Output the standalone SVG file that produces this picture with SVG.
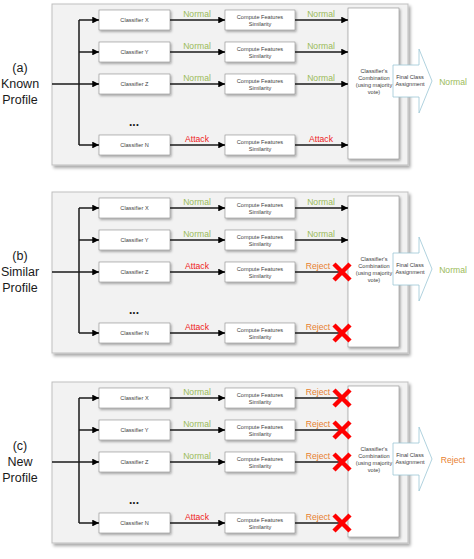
<svg xmlns="http://www.w3.org/2000/svg" width="474" height="559" viewBox="0 0 474 559">
<defs>
<style>
.panel{fill:#f2f2f2;stroke:#bfbfbf;stroke-width:1}
.box{fill:#fff;stroke:#8c8c8c;stroke-width:0.6}
.t{font-family:"Liberation Sans",Arial,sans-serif;fill:#404040;text-anchor:middle;font-size:5.6px}
.lab{font-family:"Liberation Sans",Arial,sans-serif;font-size:8.6px;text-anchor:middle}
.n{fill:#9bbb59}.a{fill:#ee1c24}.r{fill:#e8802f}
.ln{stroke:#1a1a1a;stroke-width:1.5;fill:none}
.arr{marker-end:url(#ah)}
.x{stroke:#ff0000;stroke-width:4.5;fill:none}
.side{font-family:"Liberation Sans",Arial,sans-serif;font-size:12.5px;text-anchor:middle;fill:#1a1a1a}
.big{fill:#fff;stroke:#9cc7d6;stroke-width:0.8}
.dots{font-family:"Liberation Sans",Arial,sans-serif;font-size:12px;font-weight:bold;fill:#1a1a1a;text-anchor:middle}
</style>
<marker id="ah" viewBox="0 0 10 10" refX="10" refY="5" markerWidth="4.5" markerHeight="4.5" orient="auto" markerUnits="strokeWidth"><path d="M0,0 L10,5 L0,10 z" fill="#000"/></marker>
<filter id="sh" x="-10%" y="-10%" width="130%" height="130%"><feDropShadow dx="2" dy="2.5" stdDeviation="1.5" flood-color="#000" flood-opacity="0.35"/></filter>
<filter id="bs" x="-10%" y="-20%" width="130%" height="150%"><feDropShadow dx="1.2" dy="1.5" stdDeviation="0.8" flood-color="#000" flood-opacity="0.35"/></filter>
</defs>

<!-- Panel (a) -->
<g id="panel-a">
<rect class="panel" x="52" y="4" width="356" height="161" filter="url(#sh)"/>
<g id="a-label"><text class="side" x="20" y="72">(a)</text><text class="side" x="20" y="88">Known</text><text class="side" x="20" y="104">Profile</text></g>
<g id="a-clsX"><rect class="box" x="99" y="10" width="71" height="20" filter="url(#bs)"/><text class="t" x="134.5" y="22">Classifier X</text></g>
<g id="a-clsY"><rect class="box" x="99" y="42" width="71" height="20" filter="url(#bs)"/><text class="t" x="134.5" y="54">Classifier Y</text></g>
<g id="a-clsZ"><rect class="box" x="99" y="74" width="71" height="20" filter="url(#bs)"/><text class="t" x="134.5" y="86">Classifier Z</text></g>
<g id="a-clsN"><rect class="box" x="99" y="135" width="71" height="20" filter="url(#bs)"/><text class="t" x="134.5" y="147">Classifier N</text></g>
<text class="dots" x="134" y="126">...</text>
<g id="a-cfX"><rect class="box" x="225" y="10" width="70" height="20" filter="url(#bs)"/><text class="t" x="260" y="18.5">Compute Features</text><text class="t" x="260" y="25.5">Similarity</text></g>
<g id="a-cfY"><rect class="box" x="225" y="42" width="70" height="20" filter="url(#bs)"/><text class="t" x="260" y="50.5">Compute Features</text><text class="t" x="260" y="57.5">Similarity</text></g>
<g id="a-cfZ"><rect class="box" x="225" y="74" width="70" height="20" filter="url(#bs)"/><text class="t" x="260" y="82.5">Compute Features</text><text class="t" x="260" y="89.5">Similarity</text></g>
<g id="a-cfN"><rect class="box" x="225" y="135" width="70" height="20" filter="url(#bs)"/><text class="t" x="260" y="143.5">Compute Features</text><text class="t" x="260" y="150.5">Similarity</text></g>
<g id="a-comb"><rect class="box" x="348" y="8" width="51" height="151" filter="url(#bs)"/><text class="t" x="374" y="73">Classifier's</text><text class="t" x="374" y="80">Combination</text><text class="t" x="374" y="87">(using majority</text><text class="t" x="374" y="94">vote)</text></g>
<g id="a-final"><path class="big" d="M393,65 L419,65 L419,49 L432,81 L419,113 L419,97 L393,97 Z"/><text class="t" x="410" y="79">Final Class</text><text class="t" x="410" y="86">Assignment</text></g>
<g id="a-conn">
<path class="ln" d="M52,84 L79,84 M79,20 L79,145"/>
<path class="ln arr" d="M79,20 L99,20"/><path class="ln arr" d="M79,52 L99,52"/><path class="ln arr" d="M79,84 L99,84"/><path class="ln arr" d="M79,145 L99,145"/>
<path class="ln arr" d="M170,20 L225,20"/><path class="ln arr" d="M170,52 L225,52"/><path class="ln arr" d="M170,84 L225,84"/><path class="ln arr" d="M170,145 L225,145"/>
<path class="ln arr" d="M295,20 L348,20"/><path class="ln arr" d="M295,52 L348,52"/><path class="ln arr" d="M295,84 L348,84"/><path class="ln arr" d="M295,145 L348,145"/>
<text class="lab n" x="197" y="17">Normal</text><text class="lab n" x="197" y="49">Normal</text><text class="lab n" x="197" y="81">Normal</text><text class="lab a" x="197" y="142">Attack</text>
<text class="lab n" x="321" y="17">Normal</text><text class="lab n" x="321" y="49">Normal</text><text class="lab n" x="321" y="81">Normal</text><text class="lab a" x="321" y="142">Attack</text>
<text class="lab n" x="453" y="84.5">Normal</text>
</g>
</g>

<!-- Panel (b) -->
<g id="panel-b" transform="translate(0,188)">
<rect class="panel" x="52" y="4" width="356" height="161" filter="url(#sh)"/>
<g id="b-label"><text class="side" x="20" y="72">(b)</text><text class="side" x="20" y="88">Similar</text><text class="side" x="20" y="104">Profile</text></g>
<g id="b-clsX"><rect class="box" x="99" y="10" width="71" height="20" filter="url(#bs)"/><text class="t" x="134.5" y="22">Classifier X</text></g>
<g id="b-clsY"><rect class="box" x="99" y="42" width="71" height="20" filter="url(#bs)"/><text class="t" x="134.5" y="54">Classifier Y</text></g>
<g id="b-clsZ"><rect class="box" x="99" y="74" width="71" height="20" filter="url(#bs)"/><text class="t" x="134.5" y="86">Classifier Z</text></g>
<g id="b-clsN"><rect class="box" x="99" y="135" width="71" height="20" filter="url(#bs)"/><text class="t" x="134.5" y="147">Classifier N</text></g>
<text class="dots" x="134" y="126">...</text>
<g id="b-cfX"><rect class="box" x="225" y="10" width="70" height="20" filter="url(#bs)"/><text class="t" x="260" y="18.5">Compute Features</text><text class="t" x="260" y="25.5">Similarity</text></g>
<g id="b-cfY"><rect class="box" x="225" y="42" width="70" height="20" filter="url(#bs)"/><text class="t" x="260" y="50.5">Compute Features</text><text class="t" x="260" y="57.5">Similarity</text></g>
<g id="b-cfZ"><rect class="box" x="225" y="74" width="70" height="20" filter="url(#bs)"/><text class="t" x="260" y="82.5">Compute Features</text><text class="t" x="260" y="89.5">Similarity</text></g>
<g id="b-cfN"><rect class="box" x="225" y="135" width="70" height="20" filter="url(#bs)"/><text class="t" x="260" y="143.5">Compute Features</text><text class="t" x="260" y="150.5">Similarity</text></g>
<g id="b-comb"><rect class="box" x="348" y="8" width="51" height="151" filter="url(#bs)"/><text class="t" x="374" y="73">Classifier's</text><text class="t" x="374" y="80">Combination</text><text class="t" x="374" y="87">(using majority</text><text class="t" x="374" y="94">vote)</text></g>
<g id="b-final"><path class="big" d="M393,65 L419,65 L419,49 L432,81 L419,113 L419,97 L393,97 Z"/><text class="t" x="410" y="79">Final Class</text><text class="t" x="410" y="86">Assignment</text></g>
<g id="b-conn">
<path class="ln" d="M52,84 L79,84 M79,20 L79,145"/>
<path class="ln arr" d="M79,20 L99,20"/><path class="ln arr" d="M79,52 L99,52"/><path class="ln arr" d="M79,84 L99,84"/><path class="ln arr" d="M79,145 L99,145"/>
<path class="ln arr" d="M170,20 L225,20"/><path class="ln arr" d="M170,52 L225,52"/><path class="ln arr" d="M170,84 L225,84"/><path class="ln arr" d="M170,145 L225,145"/>
<path class="ln arr" d="M295,20 L348,20"/><path class="ln arr" d="M295,52 L348,52"/><path class="ln" d="M295,84 L340,84"/><path class="ln" d="M295,145 L340,145"/>
<path class="x" d="M334,76 L350,92 M350,76 L334,92"/><path class="x" d="M334,137 L350,153 M350,137 L334,153"/>
<text class="lab n" x="197" y="17">Normal</text><text class="lab n" x="197" y="49">Normal</text><text class="lab a" x="197" y="81">Attack</text><text class="lab a" x="197" y="142">Attack</text>
<text class="lab n" x="321" y="17">Normal</text><text class="lab n" x="321" y="49">Normal</text><text class="lab r" x="318" y="81">Reject</text><text class="lab r" x="318" y="142">Reject</text>
<text class="lab n" x="453" y="84.5">Normal</text>
</g>
</g>

<!-- Panel (c) -->
<g id="panel-c" transform="translate(0,378)">
<rect class="panel" x="52" y="4" width="356" height="161" filter="url(#sh)"/>
<g id="c-label"><text class="side" x="20" y="72">(c)</text><text class="side" x="20" y="88">New</text><text class="side" x="20" y="104">Profile</text></g>
<g id="c-clsX"><rect class="box" x="99" y="10" width="71" height="20" filter="url(#bs)"/><text class="t" x="134.5" y="22">Classifier X</text></g>
<g id="c-clsY"><rect class="box" x="99" y="42" width="71" height="20" filter="url(#bs)"/><text class="t" x="134.5" y="54">Classifier Y</text></g>
<g id="c-clsZ"><rect class="box" x="99" y="74" width="71" height="20" filter="url(#bs)"/><text class="t" x="134.5" y="86">Classifier Z</text></g>
<g id="c-clsN"><rect class="box" x="99" y="135" width="71" height="20" filter="url(#bs)"/><text class="t" x="134.5" y="147">Classifier N</text></g>
<text class="dots" x="134" y="126">...</text>
<g id="c-cfX"><rect class="box" x="225" y="10" width="70" height="20" filter="url(#bs)"/><text class="t" x="260" y="18.5">Compute Features</text><text class="t" x="260" y="25.5">Similarity</text></g>
<g id="c-cfY"><rect class="box" x="225" y="42" width="70" height="20" filter="url(#bs)"/><text class="t" x="260" y="50.5">Compute Features</text><text class="t" x="260" y="57.5">Similarity</text></g>
<g id="c-cfZ"><rect class="box" x="225" y="74" width="70" height="20" filter="url(#bs)"/><text class="t" x="260" y="82.5">Compute Features</text><text class="t" x="260" y="89.5">Similarity</text></g>
<g id="c-cfN"><rect class="box" x="225" y="135" width="70" height="20" filter="url(#bs)"/><text class="t" x="260" y="143.5">Compute Features</text><text class="t" x="260" y="150.5">Similarity</text></g>
<g id="c-comb"><rect class="box" x="348" y="8" width="51" height="151" filter="url(#bs)"/><text class="t" x="374" y="73">Classifier's</text><text class="t" x="374" y="80">Combination</text><text class="t" x="374" y="87">(using majority</text><text class="t" x="374" y="94">vote)</text></g>
<g id="c-final"><path class="big" d="M393,65 L419,65 L419,49 L432,81 L419,113 L419,97 L393,97 Z"/><text class="t" x="410" y="79">Final Class</text><text class="t" x="410" y="86">Assignment</text></g>
<g id="c-conn">
<path class="ln" d="M52,84 L79,84 M79,20 L79,145"/>
<path class="ln arr" d="M79,20 L99,20"/><path class="ln arr" d="M79,52 L99,52"/><path class="ln arr" d="M79,84 L99,84"/><path class="ln arr" d="M79,145 L99,145"/>
<path class="ln arr" d="M170,20 L225,20"/><path class="ln arr" d="M170,52 L225,52"/><path class="ln arr" d="M170,84 L225,84"/><path class="ln arr" d="M170,145 L225,145"/>
<path class="ln" d="M295,20 L340,20"/><path class="ln" d="M295,52 L340,52"/><path class="ln" d="M295,84 L340,84"/><path class="ln" d="M295,145 L340,145"/>
<path class="x" d="M334,12 L350,28 M350,12 L334,28"/><path class="x" d="M334,44 L350,60 M350,44 L334,60"/><path class="x" d="M334,76 L350,92 M350,76 L334,92"/><path class="x" d="M334,137 L350,153 M350,137 L334,153"/>
<text class="lab n" x="197" y="17">Normal</text><text class="lab n" x="197" y="49">Normal</text><text class="lab n" x="197" y="81">Normal</text><text class="lab a" x="197" y="142">Attack</text>
<text class="lab r" x="318" y="17">Reject</text><text class="lab r" x="318" y="49">Reject</text><text class="lab r" x="318" y="81">Reject</text><text class="lab r" x="318" y="142">Reject</text>
<text class="lab r" x="453" y="84.5">Reject</text>
</g>
</g>
</svg>
